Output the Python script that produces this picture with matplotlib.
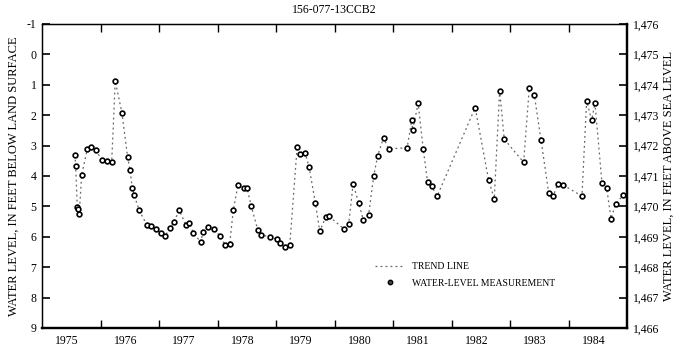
import matplotlib.pyplot as plt
from matplotlib.lines import Line2D
import numpy as np

# decimal year of each measurement and depth to water (ft below land surface)
years = [1975.133, 1975.145, 1975.173, 1975.190, 1975.207, 1975.248, 1975.344, 1975.402,
         1975.492, 1975.595, 1975.675, 1975.761, 1975.822, 1975.937, 1976.034, 1976.074,
         1976.113, 1976.147, 1976.232, 1976.359, 1976.429, 1976.518, 1976.609, 1976.672,
         1976.762, 1976.826, 1976.916, 1977.031, 1977.087, 1977.156, 1977.287, 1977.318,
         1977.415, 1977.509, 1977.609, 1977.703, 1977.779, 1977.839, 1977.920, 1978.031,
         1978.077, 1978.145, 1978.258, 1978.321, 1978.467, 1978.586, 1978.641, 1978.723,
         1978.805, 1978.932, 1978.985, 1979.070, 1979.137, 1979.244, 1979.318, 1979.421,
         1979.472, 1979.737, 1979.812, 1979.889, 1979.983, 1980.062, 1980.154, 1980.239,
         1980.308, 1980.409, 1980.494, 1980.812, 1980.889, 1980.906, 1981.000, 1981.086,
         1981.161, 1981.229, 1981.326, 1981.975, 1982.205, 1982.301, 1982.393, 1982.472,
         1982.803, 1982.899, 1982.985, 1983.099, 1983.231, 1983.309, 1983.385, 1983.481,
         1983.800, 1983.880, 1983.966, 1984.022, 1984.142, 1984.222, 1984.296, 1984.376,
         1984.496]
depth = [3.30, 3.66, 5.01, 5.10, 5.25, 3.96, 3.12, 3.05,
         3.14, 3.49, 3.51, 3.55, 0.88, 1.93, 3.39, 3.81,
         4.38, 4.64, 5.13, 5.60, 5.64, 5.74, 5.89, 5.97,
         5.72, 5.50, 5.13, 5.61, 5.53, 5.87, 6.18, 5.85,
         5.68, 5.75, 5.97, 6.28, 6.24, 5.12, 4.31, 4.41,
         4.41, 4.98, 5.77, 5.94, 6.00, 6.08, 6.22, 6.33,
         6.28, 3.03, 3.27, 3.25, 3.72, 4.90, 5.82, 5.35,
         5.32, 5.75, 5.59, 4.25, 4.89, 5.44, 5.27, 4.01,
         3.33, 2.74, 3.11, 3.07, 2.17, 2.49, 1.61, 3.10,
         4.20, 4.34, 4.66, 1.75, 4.14, 4.75, 1.19, 2.79,
         3.55, 1.12, 1.33, 2.80, 4.55, 4.66, 4.27, 4.30,
         4.66, 1.53, 2.17, 1.59, 4.23, 4.38, 5.40, 4.93,
         4.64]

land_surface = 1475
title = '156-077-13CCB2'

plt.rcParams['font.family'] = 'Liberation Serif'
plt.rcParams['font.size'] = 8
plt.rcParams['axes.unicode_minus'] = False

fig = plt.figure(figsize=(6.87, 3.58), dpi=100)
ax = fig.add_axes([42 / 687, 1 - 328 / 358, (627 - 42) / 687, (328 - 24) / 358])

ax.plot(years, depth, linestyle=(0, (1.5, 2.5)), color='#666666', linewidth=0.9, zorder=2)
ax.plot(years, depth, linestyle='none', marker='o', markersize=3.4, markerfacecolor='white',
        markeredgecolor='black', markeredgewidth=1.2, zorder=3)

ax.set_xlim(1974.57, 1984.57)
ax.set_ylim(9, -1)
ax.set_yticks(range(-1, 10))
ax.set_xticks(range(1975, 1985))
ax.set_xticks(np.arange(1975.57, 1984.0, 1.0), minor=True)
ax.tick_params(axis='x', which='major', length=0, pad=5, labelsize=8.5)
ax.tick_params(axis='x', which='minor', direction='in', length=6, top=True, width=1)
ax.tick_params(axis='y', direction='in', length=6, width=1.2, pad=4, labelsize=8.5)

for side in ['bottom', 'right']:
    ax.spines[side].set_linewidth(1.6)
for side in ['top', 'left']:
    ax.spines[side].set_linewidth(1.0)

ax.set_ylabel('WATER LEVEL, IN FEET BELOW LAND SURFACE', fontsize=9, labelpad=5)
ax.set_title(title, fontsize=8.5, pad=8)

ax2 = ax.twinx()
ax2.set_ylim(land_surface - 9, land_surface + 1)
ax2.set_yticks(range(land_surface - 9, land_surface + 2))
ax2.set_yticklabels([f'{v:,}' for v in range(land_surface - 9, land_surface + 2)])
ax2.tick_params(axis='y', direction='in', length=6, width=1.2, pad=4, labelsize=8.5)
ax2.set_ylabel('WATER LEVEL, IN FEET ABOVE SEA LEVEL', fontsize=9, labelpad=3)
for side in ['bottom', 'right']:
    ax2.spines[side].set_linewidth(1.6)

handles = [
    Line2D([], [], linestyle=(0, (1.5, 2.5)), color='#666666', linewidth=0.9),
    Line2D([], [], linestyle='none', marker='o', markersize=3.2, markerfacecolor='#444444',
           markeredgecolor='black'),
]
ax.legend(handles, ['TREND LINE', 'WATER-LEVEL MEASUREMENT'], loc='upper left',
          bbox_to_anchor=(0.555, 0.245), frameon=False, fontsize=7, handlelength=3,
          labelspacing=0.75)

fig.savefig('out.png', dpi=100)
